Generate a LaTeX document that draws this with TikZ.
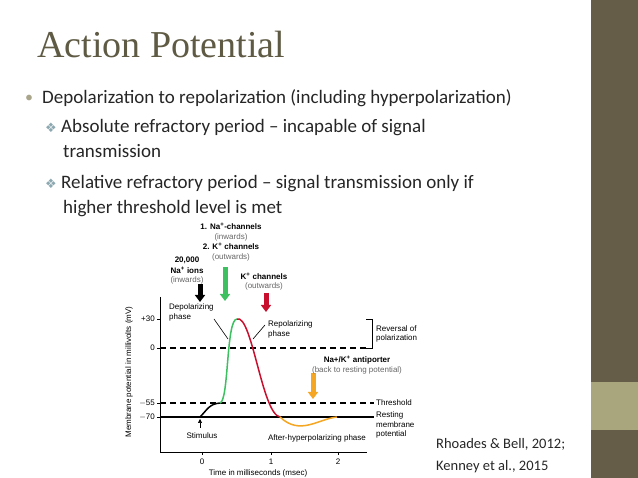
\documentclass[tikz,border=0pt]{standalone}
\usepackage{fontspec}
\usetikzlibrary{arrows.meta}
\setmainfont{Carlito}
\newfontfamily\titlefont{Liberation Serif}
\newfontfamily\figfont{Liberation Sans}
\newfontfamily\symfont{DejaVu Sans}
\definecolor{side}{HTML}{655D47}
\definecolor{band}{HTML}{A9A57D}
\definecolor{ttl}{HTML}{5E5A44}
\definecolor{bul}{HTML}{8CA8B0}
\definecolor{dot}{HTML}{A8A58A}
\definecolor{txt}{HTML}{262626}
\definecolor{gr}{HTML}{3CC060}
\definecolor{rd}{HTML}{C8102E}
\definecolor{og}{HTML}{F5A623}
\definecolor{gy}{HTML}{666666}
\tikzset{
 body/.style={anchor=base west,inner sep=0,font=\fontsize{19}{19}\selectfont,text=txt},
 fig/.style={inner sep=0,font=\figfont\fontsize{8}{9.5}\selectfont},
 figb/.style={fig,font=\figfont\bfseries\fontsize{8}{9.5}\selectfont},
 figg/.style={fig,text=gy},
 fat/.style={-{Triangle[width=10pt,length=7pt]},line width=5pt},
 dl/.style={dashed,dash pattern=on 6pt off 4pt,line width=1.3pt},
}
\begin{document}
\begin{tikzpicture}[x=1pt,y=-1pt]
\useasboundingbox (0,0) rectangle (638,478);
\fill[white] (0,0) rectangle (638,478);
\fill[side] (591,0) rectangle (638,478);
\fill[band] (591,382) rectangle (638,430);
\node[anchor=base west,inner sep=0,text=ttl,font=\titlefont\fontsize{38}{38}\selectfont] (title) at (37,58) {Action Potential};
\node[anchor=base west,inner sep=0,text=dot,font=\fontsize{16}{16}\selectfont] (b0) at (25,103) {•};
\node[body] (l1) at (42,104) {Depolarization to repolarization (including hyperpolarization)};
\node[anchor=base west,inner sep=0,text=bul,font=\symfont\fontsize{13}{13}\selectfont] (b1) at (45,133) {❖};
\node[body] (l2) at (61,133) {Absolute refractory period – incapable of signal};
\node[body] (l3) at (63,158) {transmission};
\node[anchor=base west,inner sep=0,text=bul,font=\symfont\fontsize{13}{13}\selectfont] (b2) at (45,189) {❖};
\node[body] (l4) at (61,189) {Relative refractory period – signal transmission only if};
\node[body] (l5) at (63,214) {higher threshold level is met};
\node[anchor=base west,inner sep=0,text=txt,font=\fontsize{14.5}{14.5}\selectfont] (c1) at (436,449) {Rhoades \& Bell, 2012;};
\node[anchor=base west,inner sep=0,text=txt,font=\fontsize{14.5}{14.5}\selectfont] (c2) at (436,471) {Kenney et al., 2015};
% axes
\coordinate (o) at (160,452);
\coordinate (ytop) at (160,297);
\coordinate (xend) at (367,452);
\draw[line width=0.6pt] (ytop) -- (o) -- (xend);
\foreach \x/\l in {202/0,271/1,338/2}{\draw[line width=0.6pt] (\x,452) -- (\x,455); \node[fig] (t\l) at (\x,462) {\l};}
\node[fig] (xl) at (258,473) {Time in milliseconds (msec)};
\node[fig,rotate=90] (yl) at (129,372) {Membrane potential in millivolts (mV)};
\foreach \y/\l/\n in {319/+30/a,348/0/b,403/{$-$55}/c,417/{$-$70}/d}{\draw[line width=0.6pt] (157,\y) -- (160,\y); \node[fig,anchor=east] (v\n) at (155,\y) {\l};}
\draw[dl] (160,348) -- (368,348);
\draw[dl] (160,403) -- (374,403);
\draw[line width=1.2pt] (160,417) -- (374,417);
\node[fig,anchor=west] (thr) at (376,403) {Threshold};
\node[fig,anchor=north west,align=left] (rest) at (376,412) {Resting\\membrane\\potential};
\draw[line width=0.6pt] (366,319) -- (372,319) -- (372,348) -- (366,348);
\node[fig,anchor=west,align=left] (rev) at (376,334) {Reversal of\\polarization};
% curve
\coordinate (s) at (200,417);
\coordinate (th) at (220,403);
\coordinate (pk) at (237,319);
\coordinate (r0) at (280,417);
\coordinate (e0) at (337,417);
\draw[line width=1.5pt] (s) .. controls (207,410) and (209,404) .. (th);
\draw[gr,line width=1.5pt] (th) .. controls (229,401) and (226,319) .. (pk);
\draw[rd,line width=1.5pt] (pk) .. controls (252,314) and (262,414) .. (r0);
\draw[og,line width=1.5pt] (r0) .. controls (300,436) and (318,419) .. (e0);
% leaders
\node[fig,anchor=north west,align=left] (dep) at (169,304) {Depolarizing\\phase};
\node[fig,anchor=north west,align=left] (rep) at (268,321) {Repolarizing\\phase};
\coordinate (dl1) at (214,319); \coordinate (dl2) at (228,339);
\coordinate (rl1) at (265,325); \coordinate (rl2) at (253,339);
\draw[line width=0.6pt] (dl1) -- (dl2);
\draw[line width=0.6pt] (rl1) -- (rl2);
\node[fig] (stim) at (202,436) {Stimulus};
\coordinate (st1) at (200,428); \coordinate (st2) at (200,419);
\draw[-{Triangle[width=4pt,length=4pt]},line width=0.6pt] (st1) -- (st2);
\node[fig] (ahp) at (317,438) {After-hyperpolarizing phase};
% arrows
\coordinate (ka1) at (200,284); \coordinate (ka2) at (200,302);
\coordinate (ga1) at (225,267); \coordinate (ga2) at (225,301);
\coordinate (ra1) at (266,293); \coordinate (ra2) at (266,312);
\coordinate (oa1) at (313,373); \coordinate (oa2) at (313,399);
\draw[fat] (ka1) -- (ka2);
\draw[fat,gr] (ga1) -- (ga2);
\draw[fat,rd] (ra1) -- (ra2);
\draw[fat,og] (oa1) -- (oa2);
\node[figb] (n1) at (231,226) {1. Na\textsuperscript{+}-channels};
\node[figg] (n2) at (231,237) {(inwards)};
\node[figb] (n3) at (231,246) {2. K\textsuperscript{+} channels};
\node[figg] (n4) at (231,257) {(outwards)};
\node[figb] (m1) at (187,260) {20,000};
\node[figb] (m2) at (187,270) {Na\textsuperscript{+} ions};
\node[figg] (m3) at (187,280) {(inwards)};
\node[figb] (k1) at (264,276) {K\textsuperscript{+} channels};
\node[figg] (k2) at (264,286) {(outwards)};
\node[figb] (p1) at (357,360) {Na+/K\textsuperscript{+} antiporter};
\node[figg] (p2) at (357,370) {(back to resting potential)};
\end{tikzpicture}
\end{document}
